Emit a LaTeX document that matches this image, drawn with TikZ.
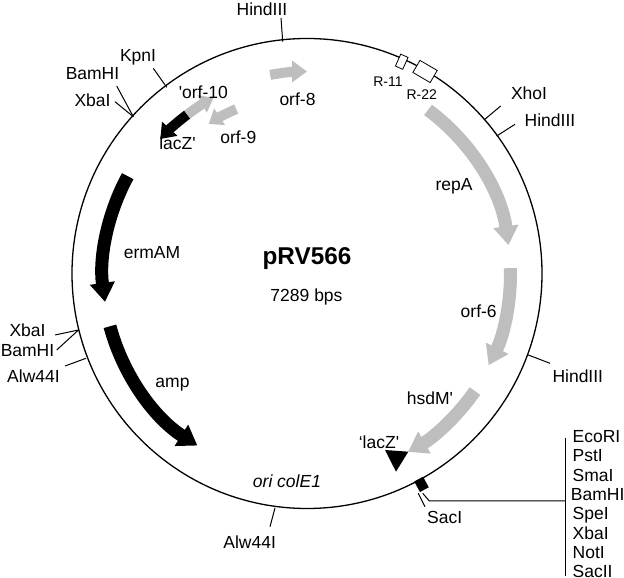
\documentclass[tikz,border=0pt]{standalone}
\usepackage{fontspec}
\setmainfont{Liberation Sans}
\usetikzlibrary{arrows.meta}
\definecolor{genegray}{RGB}{190,190,190}
\begin{document}
\begin{tikzpicture}[x=1pt,y=1pt,
  lbl/.style={font=\fontsize{17.5}{19.3}\selectfont, inner sep=0pt, anchor=base},
  smalllbl/.style={font=\fontsize{14}{16}\selectfont, inner sep=0pt, anchor=base},
  site/.style={line width=1pt},
  biggene/.style={line width=13pt, -{Triangle[width=24pt,length=19pt]}},
  smallgene/.style={line width=10pt, -{Triangle[width=21pt,length=15pt]}},
  rbox/.style={draw, fill=white, line width=0.8pt, inner sep=0pt},
]
\useasboundingbox (0,0) rectangle (624,578);
\fill[white] (0,0) rectangle (624,578);
\coordinate (C) at (307,304.5);
% backbone
\draw[line width=1.3pt] (C) circle[radius=235];

% black genes
\draw[biggene, black] ([shift={(151.5:204)}]C) arc[start angle=151.5, end angle=188, radius=204];
\draw[biggene, black] ([shift={(195:204)}]C) arc[start angle=195, end angle=237.5, radius=204];
\draw[smallgene, black, -{Triangle[width=20pt,length=14pt]}] ([shift={(127:199)}]C) arc[start angle=127, end angle=137.5, radius=199];
\fill[black] (385,128) -- (408.3,126.3) -- (396,106.3) -- cycle;

% gray genes
\draw[biggene, genegray] ([shift={(53.5:203.5)}]C) arc[start angle=53.5, end angle=8, radius=203.5];
\draw[biggene, genegray] ([shift={(1.5:203.5)}]C) arc[start angle=1.5, end angle=-26.8, radius=203.5];
\draw[biggene, genegray] ([shift={(-35:205)}]C) arc[start angle=-35, end angle=-60.5, radius=205];
\draw[smallgene, genegray] ([shift={(100.5:202)}]C) arc[start angle=100.5, end angle=90, radius=202];
\draw[smallgene, genegray, -{Triangle[width=19pt,length=13pt]}] ([shift={(127:199)}]C) arc[start angle=127, end angle=118, radius=199];
\draw[smallgene, genegray, -{Triangle[width=19pt,length=13pt]}] ([shift={(113.3:179)}]C) arc[start angle=113.3, end angle=123.3, radius=179];

% repeat boxes
\node[rbox, minimum width=8pt, minimum height=13pt, rotate=-24.1] (r11) at ([shift={(65.9:232)}]C) {};
\node[rbox, minimum width=20pt, minimum height=14pt, rotate=-30.3] (r22) at ([shift={(59.7:234)}]C) {};
\node[smalllbl] (r11l) at (388,491.3) {R-11};
\node[smalllbl] (r22l) at (421.7,478.7) {R-22};

% MCS box
\node[fill=black, minimum width=10pt, minimum height=12pt, inner sep=0pt, rotate=-151.5] (mcs) at ([shift={(-61.5:240)}]C) {};

% restriction sites
\draw[site] (282.7,536.3) -- (281,560);
\node[lbl] at (262,562) {HindIII};
\draw[site] (166.7,490.7) -- (153.3,509.7);
\node[lbl] at (138,516.7) {KpnI};
\draw[site] (133.3,461.3) -- (116.7,492);
\draw[site] (133.3,461.3) -- (115,476.3);
\node[lbl] at (92.5,498) {BamHI};
\node[lbl] at (92.5,471.3) {XbaI};
\draw[site] (78.5,248) -- (55,243);
\draw[site] (78.5,248) -- (56.7,228);
\node[lbl] at (27.5,241) {XbaI};
\node[lbl] at (27.5,221.3) {BamHI};
\draw[site] (86,219.7) -- (65,212);
\node[lbl] at (33.5,195.3) {Alw44I};
\draw[site] (275,70) -- (270,51.3);
\node[lbl] at (249.7,29) {Alw44I};
\draw[site] (528.3,223) -- (550,214.7);
\node[lbl] at (577.8,195.3) {HindIII};
\draw[site] (484,458) -- (500.7,472);
\node[lbl] at (529,478.7) {XhoI};
\draw[site] (496.7,442) -- (515,453.7);
\node[lbl] at (550,451.3) {HindIII};
\draw[site] (418.3,84.7) -- (425,71.3);
\node[lbl] at (444.7,54.7) {SacI};
\draw[site] (422.7,84.7) -- (429.3,77) -- (565.5,77);
\draw[site] (565.5,140) -- (565.5,2);
\node[lbl, anchor=base west] at (572.5,135.3) {EcoRI};
\node[lbl, anchor=base west] at (572.5,116) {PstI};
\node[lbl, anchor=base west] at (572.5,96.7) {SmaI};
\node[lbl, anchor=base west] at (570.7,77.4) {BamHI};
\node[lbl, anchor=base west] at (572.5,58.1) {SpeI};
\node[lbl, anchor=base west] at (572.5,38.8) {XbaI};
\node[lbl, anchor=base west] at (572.5,19.5) {NotI};
\node[lbl, anchor=base west] at (572.5,0.2) {SacII};

% gene labels
\node[lbl] at (203.3,479.7) {\textquotesingle orf-10};
\node[lbl] at (297.5,472) {orf-8};
\node[lbl] at (238.3,434.7) {orf-9};
\node[lbl] at (177.5,428) {lacZ\textquotesingle};
\node[lbl] at (454,387.2) {repA};
\node[lbl] at (478.7,260.7) {orf-6};
\node[lbl] at (430,173) {hsdM\textquotesingle};
\node[lbl] at (152,319.7) {ermAM};
\node[lbl] at (172.5,190.6) {amp};
\node[lbl] at (379,129.7) {‘lacZ\textquotesingle};
\node[lbl] at (287,90) {\itshape ori colE1};

% title
\node[inner sep=0pt, anchor=base, font=\fontsize{24.3}{26}\selectfont\bfseries] at (307,313.7) {pRV566};
\node[lbl] at (306.5,276.3) {7289 bps};
\end{tikzpicture}
\end{document}
